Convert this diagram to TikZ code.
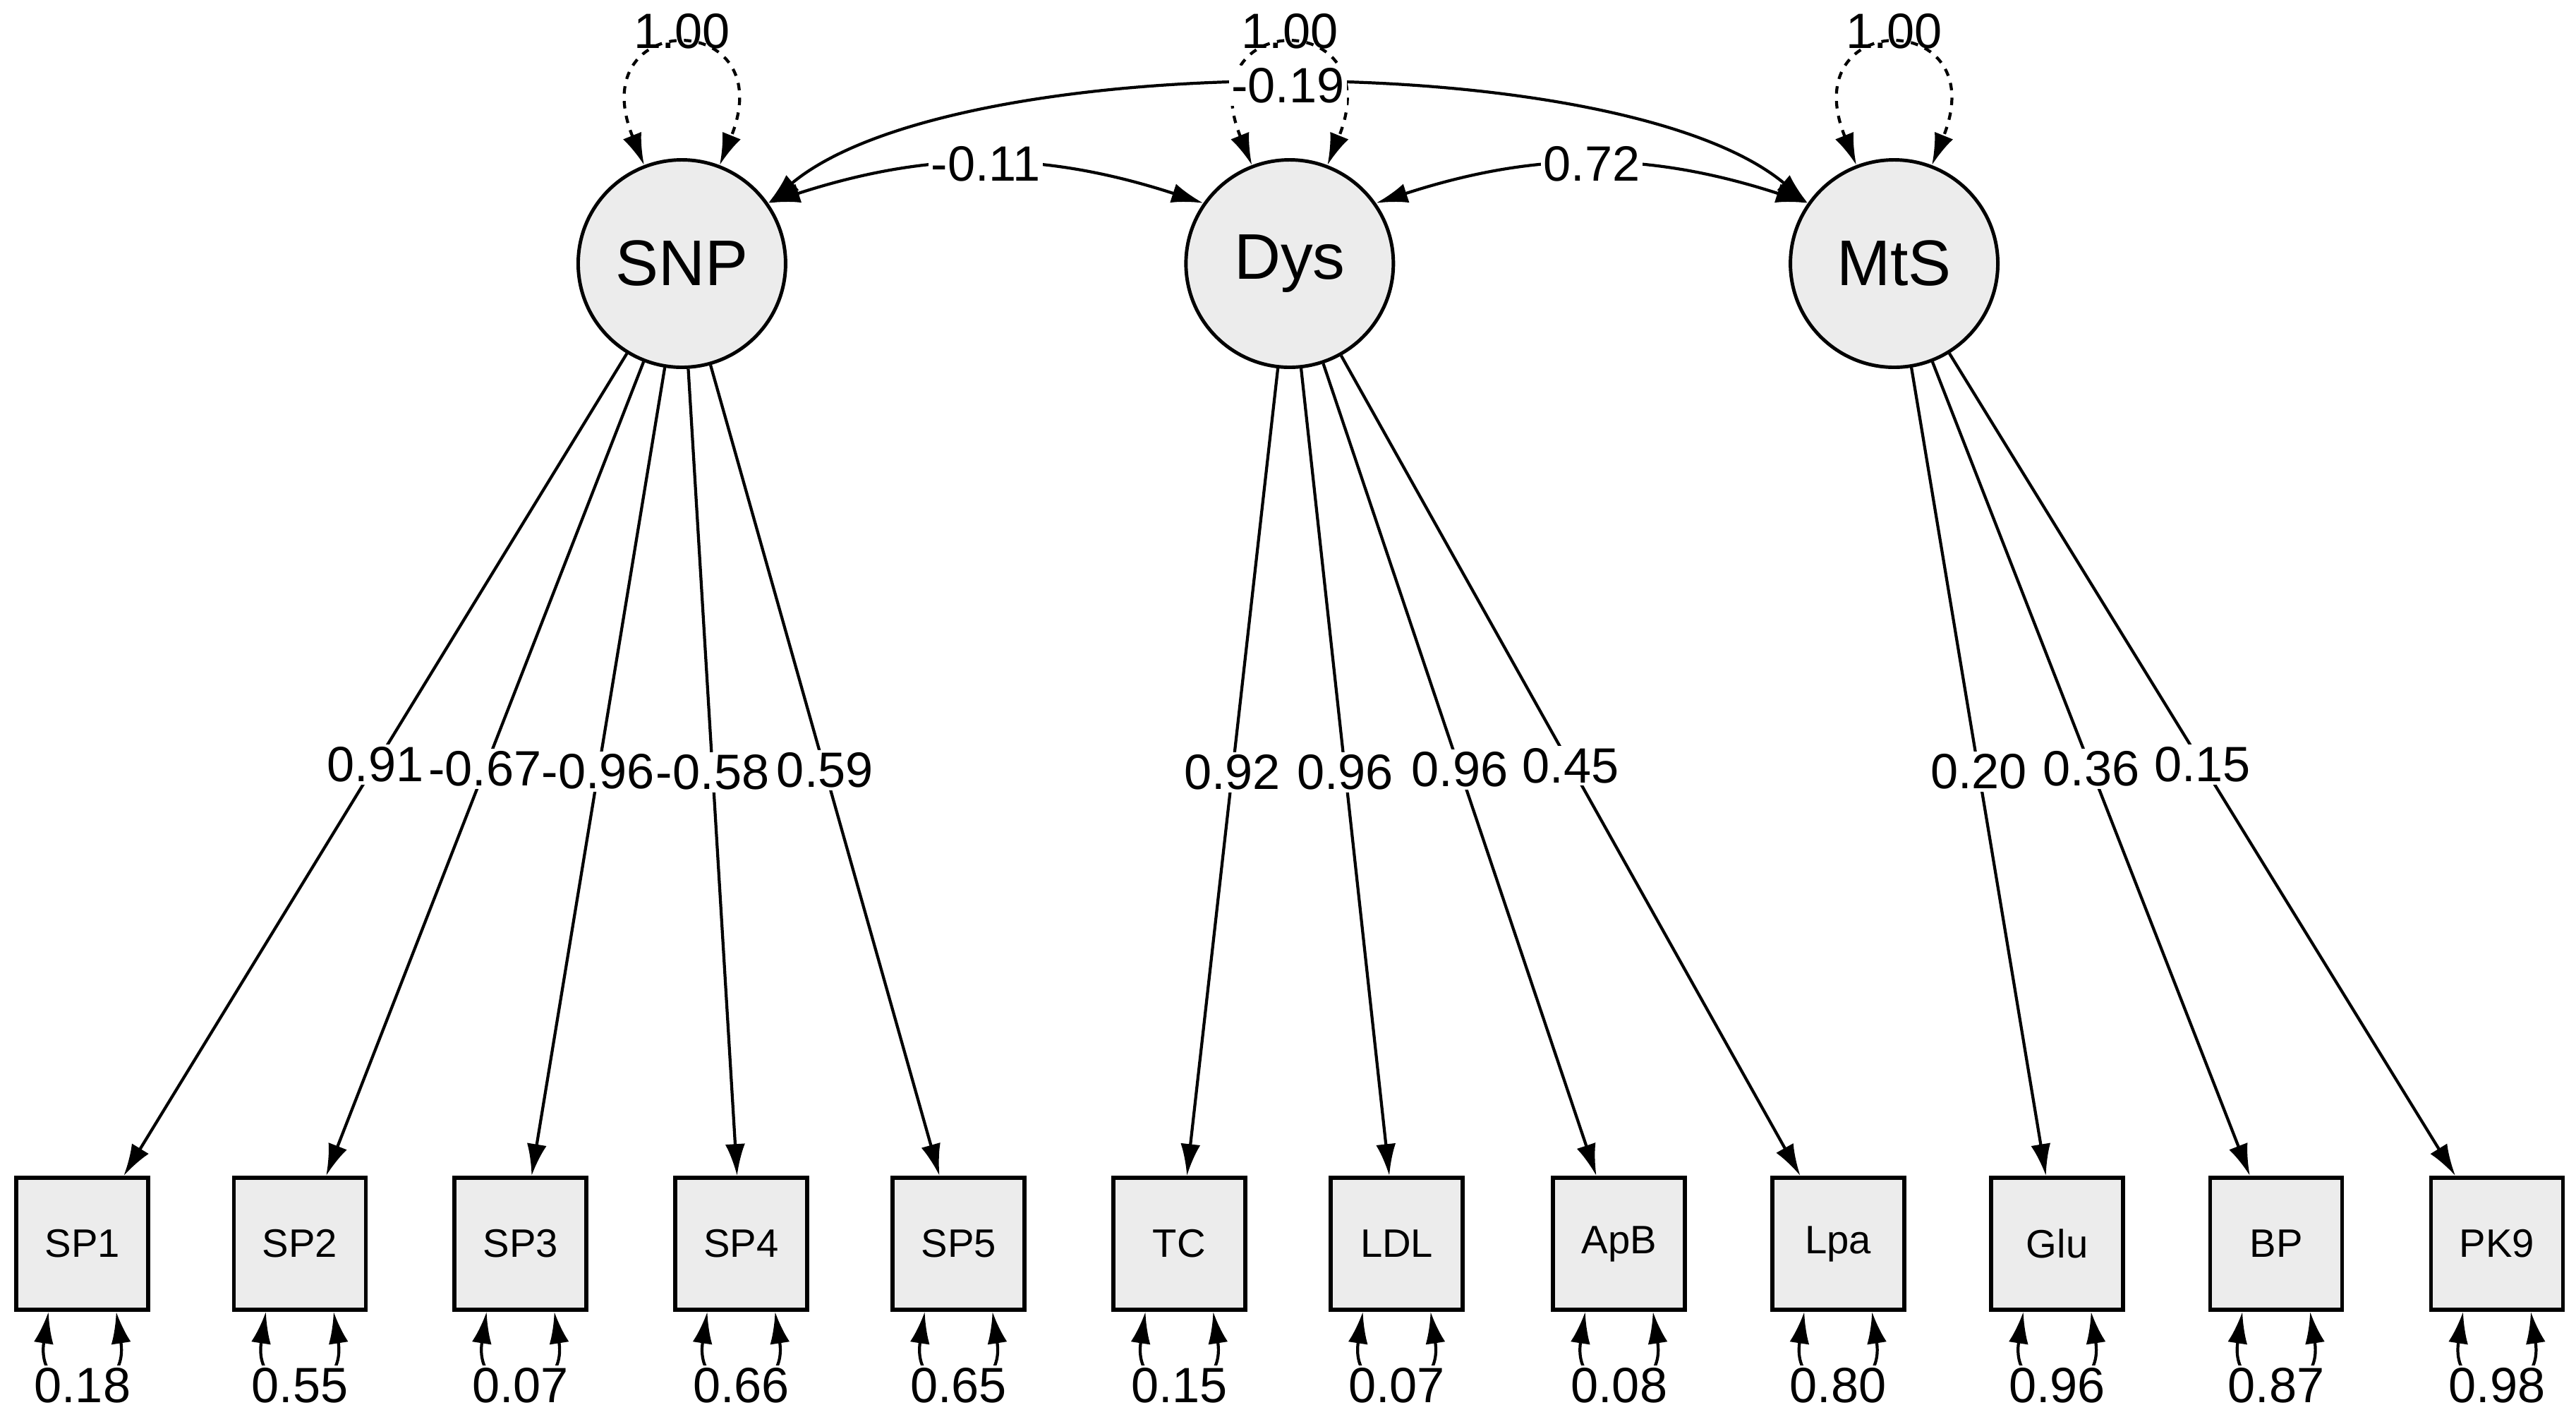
\documentclass[tikz,border=0pt]{standalone}
\usepackage{fontspec}
\setmainfont{Liberation Sans}
\usetikzlibrary{arrows.meta}
\tikzset{
  lat/.style={circle, draw, line width=1.4pt, fill=gray!15, minimum size=2.94cm, inner sep=0pt, font=\fontsize{26}{29}\selectfont},
  obs/.style={rectangle, draw, line width=1.6pt, fill=gray!15, minimum size=1.87cm, inner sep=0pt, font=\fontsize{16}{18}\selectfont},
  est/.style={fill=white, inner sep=1pt, font=\fontsize{20}{22}\selectfont},
  arr/.style={line width=1.2pt, -{Latex[length=0.45cm, width=0.28cm]}},
  dbl/.style={line width=1.2pt, {Latex[length=0.45cm, width=0.28cm]}-{Latex[length=0.45cm, width=0.28cm]}}
}
\begin{document}
\begin{tikzpicture}[x=0.023344cm, y=-0.023344cm]
  \useasboundingbox (0,0) rectangle (1564,860);
  % latent factors
  \node[lat] (SNP) at (414,160) {SNP};
  \node[lat] (Dys) at (783,160) {Dys};
  \node[lat] (MtS) at (1150,160) {MtS};
  % variances of the factors
  \foreach \f in {SNP, Dys, MtS}{
    \draw[dbl, dashed] (\f.111) .. controls +(112:2.4cm) and +(68:2.4cm) .. (\f.69);
    \node[est, fill=none] (v\f) at ([yshift=1.8cm]\f.north) {1.00};
  }
  % factor covariances
  \draw[dbl] (SNP.35) to[out=40, in=140, looseness=0.6] node[est] (cSM) {-0.19} (MtS.145);
  \draw[dbl] (SNP.35) to[out=18, in=162] node[est] (cSD) {-0.11} (Dys.145);
  \draw[dbl] (Dys.35) to[out=18, in=162] node[est] (cDM) {0.72} (MtS.145);
  % indicators with residual variances
  \foreach \n/\x/\r in {SP1/50/0.18, SP2/182/0.55, SP3/316/0.07, SP4/450/0.66, SP5/582/0.65,
      TC/716/0.15, LDL/848/0.07, ApB/983/0.08, Lpa/1116/0.80, Glu/1249/0.96, BP/1382/0.87, PK9/1516/0.98}{
    \node[obs] (\n) at (\x,755) {\n};
    \draw[dbl] ([xshift=-0.48cm]\n.south) .. controls +(-0.2cm,-1.3cm) and +(0.2cm,-1.3cm) .. ([xshift=0.48cm]\n.south);
    \node[est] (r\n) at ([yshift=-1.05cm]\n.south) {\r};
  }
  % loadings
  \foreach \f/\o/\v in {SNP/SP1/0.91, SNP/SP2/-0.67, SNP/SP3/-0.96, SNP/SP4/-0.58, SNP/SP5/0.59,
      Dys/TC/0.92, Dys/LDL/0.96, Dys/ApB/0.96, Dys/Lpa/0.45,
      MtS/Glu/0.20, MtS/BP/0.36, MtS/PK9/0.15}
    \draw[arr] (\f) -- node[est, pos=0.5] {\v} (\o);
\end{tikzpicture}
\end{document}
